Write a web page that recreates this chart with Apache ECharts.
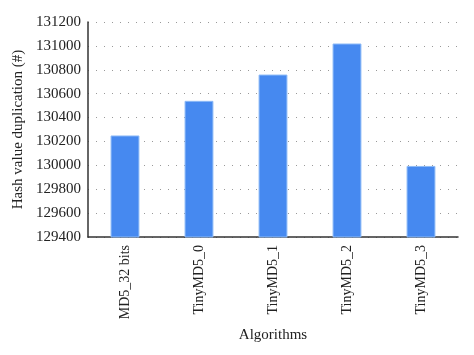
<!DOCTYPE html>
<html>
<head>
<meta charset="utf-8">
<script src="https://cdn.jsdelivr.net/npm/echarts@6/dist/echarts.min.js"></script>
<style>
  html, body { margin: 0; padding: 0; background: #fff; }
  #chart { width: 474px; height: 355px; }
</style>
</head>
<body>
<div id="chart"></div>
<script>
const algorithms = ["MD5_32 bits", "TinyMD5_0", "TinyMD5_1", "TinyMD5_2", "TinyMD5_3"]
const duplication = [130250, 130540, 130760, 131020, 129995]

const font = "Liberation Serif"
const chart = echarts.init(document.getElementById("chart"))

chart.setOption({
  animation: false,
  grid: { left: 88, right: 16, top: 22, bottom: 118 },
  xAxis: {
    type: "category",
    data: algorithms,
    name: "Algorithms",
    nameLocation: "middle",
    nameGap: 85,
    nameTextStyle: { fontFamily: font, fontSize: 15, color: "#222" },
    axisLine: { lineStyle: { color: "#333", width: 1.5 } },
    axisTick: { show: false },
    axisLabel: {
      rotate: 90,
      interval: 0,
      margin: 8,
      fontFamily: font,
      fontSize: 14,
      color: "#222"
    }
  },
  yAxis: {
    type: "value",
    min: 129400,
    max: 131200,
    interval: 200,
    name: "Hash value duplication (#)",
    nameLocation: "middle",
    nameGap: 55,
    nameTextStyle: { fontFamily: font, fontSize: 15, color: "#222" },
    axisLine: { show: true, lineStyle: { color: "#333", width: 1.5 } },
    axisTick: { show: false },
    axisLabel: {
      fontFamily: font,
      fontSize: 15,
      color: "#222",
      margin: 7,
      formatter: v => String(v)
    },
    splitLine: { lineStyle: { color: "#999", type: [1, 7], width: 1 } }
  },
  series: [{
    type: "bar",
    data: duplication,
    barWidth: "39%",
    itemStyle: { color: "#4689f0", borderColor: "#8dbaf7", borderWidth: 1 }
  }]
})
</script>
</body>
</html>
